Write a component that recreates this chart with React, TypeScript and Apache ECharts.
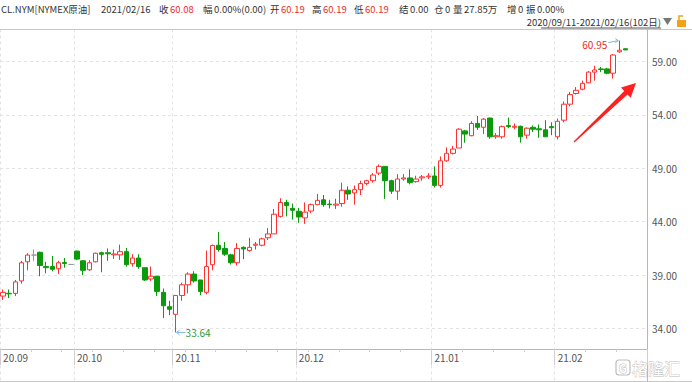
import React, { useEffect, useRef } from 'react';
import * as echarts from 'echarts';

// [open, close, low, high]
const ohlc: number[][] = [
  [37.04, 37.39, 36.68, 37.66],
  [37.3, 37.25, 36.86, 37.66],
  [37.3, 38.37, 37.04, 38.55],
  [38.46, 40.16, 38.2, 40.34],
  [40.25, 40.88, 39.45, 41.05],
  [40.88, 40.88, 40.34, 41.4],
  [41.14, 39.9, 38.9, 41.2],
  [39.8, 39.7, 39.18, 40.25],
  [39.8, 39.55, 39.36, 40.8],
  [39.6, 40.16, 39.1, 40.34],
  [40.18, 40.1, 39.7, 40.6],
  [40.0, 40.0, 39.95, 40.05],
  [41.25, 40.5, 40.4, 41.3],
  [40.34, 39.45, 39.0, 40.4],
  [39.5, 40.16, 39.4, 40.4],
  [40.25, 41.05, 40.2, 41.1],
  [41.1, 40.95, 39.27, 41.2],
  [41.1, 41.0, 40.34, 41.5],
  [40.9, 40.98, 40.52, 41.4],
  [40.9, 41.2, 40.43, 41.86],
  [41.2, 39.98, 39.8, 41.55],
  [40.07, 40.6, 39.8, 40.96],
  [40.6, 39.8, 39.6, 40.96],
  [39.7, 38.55, 38.46, 39.7],
  [38.64, 38.9, 38.46, 39.8],
  [38.9, 37.48, 37.04, 38.9],
  [37.39, 36.14, 34.98, 37.75],
  [36.05, 35.8, 35.25, 36.6],
  [35.34, 37.1, 33.64, 37.12],
  [37.1, 38.1, 36.6, 38.3],
  [38.1, 39.1, 37.3, 39.27],
  [39.1, 38.46, 38.3, 39.36],
  [38.55, 37.48, 37.12, 38.55],
  [37.39, 39.8, 37.2, 41.3],
  [39.98, 41.77, 39.45, 41.86],
  [41.8, 41.4, 41.2, 43.05],
  [41.5, 40.96, 40.8, 42.1],
  [40.9, 40.16, 40.0, 41.0],
  [40.16, 41.5, 39.9, 42.0],
  [41.6, 41.45, 40.5, 41.7],
  [41.3, 41.6, 41.2, 42.5],
  [41.8, 41.9, 41.4, 42.1],
  [41.8, 42.4, 41.7, 42.5],
  [42.5, 42.86, 42.3, 43.4],
  [42.86, 44.7, 42.86, 45.2],
  [44.5, 45.8, 44.4, 46.2],
  [45.8, 45.5, 44.5, 46.05],
  [45.25, 45.07, 44.2, 45.7],
  [44.98, 44.45, 43.9, 45.3],
  [44.36, 44.9, 43.8, 45.8],
  [45.0, 45.6, 44.8, 45.7],
  [45.6, 46.0, 45.6, 46.6],
  [46.05, 45.6, 45.4, 46.5],
  [45.65, 45.6, 45.25, 46.05],
  [45.55, 45.65, 45.2, 46.15],
  [45.7, 46.95, 45.4, 47.66],
  [46.95, 46.6, 46.05, 47.3],
  [46.7, 47.0, 45.6, 47.4],
  [47.0, 47.57, 46.5, 47.84],
  [47.57, 47.84, 47.4, 47.93],
  [47.84, 48.37, 47.66, 48.55],
  [48.55, 49.18, 48.37, 49.36],
  [49.18, 47.84, 46.14, 49.18],
  [47.84, 46.86, 46.6, 47.93],
  [46.86, 48.0, 46.05, 48.46],
  [48.0, 48.1, 47.84, 48.46],
  [48.1, 47.66, 47.5, 48.9],
  [47.75, 48.0, 47.66, 48.3],
  [48.1, 48.2, 47.84, 48.37],
  [48.2, 48.28, 48.0, 48.55],
  [48.28, 47.4, 47.2, 49.18],
  [47.4, 49.7, 47.2, 50.1],
  [49.7, 50.4, 49.6, 50.96],
  [50.4, 50.8, 50.3, 51.1],
  [50.9, 52.66, 50.9, 52.75],
  [52.5, 52.2, 51.4, 52.6],
  [52.05, 53.2, 52.0, 53.4],
  [53.2, 52.84, 52.6, 53.9],
  [52.84, 53.6, 52.2, 53.7],
  [53.7, 51.95, 51.77, 53.75],
  [51.95, 52.05, 51.77, 52.3],
  [51.95, 52.9, 51.77, 53.0],
  [53.0, 52.9, 52.75, 53.75],
  [52.84, 52.93, 52.66, 53.2],
  [52.93, 51.95, 51.4, 53.0],
  [52.1, 52.75, 51.77, 52.84],
  [52.84, 52.66, 52.4, 53.0],
  [52.7, 52.6, 51.86, 53.1],
  [52.6, 51.95, 51.95, 53.5],
  [52.9, 52.8, 52.1, 53.3],
  [51.95, 53.4, 51.7, 53.65],
  [53.5, 55.0, 53.3, 55.25],
  [55.0, 55.9, 54.8, 56.15],
  [56.0, 56.3, 55.9, 56.6],
  [56.4, 56.95, 56.3, 57.2],
  [57.0, 58.0, 56.95, 58.1],
  [58.0, 58.2, 57.2, 58.6],
  [58.3, 58.25, 58.0, 58.5],
  [58.3, 57.9, 57.8, 58.4],
  [57.9, 59.6, 57.4, 59.7],
  [59.9, 60.05, 59.8, 60.95],
  [60.19, 60.08, 60.08, 60.19],
];

const monthStartIndex = [0, 12, 28, 48, 70, 90];
const monthLabels = ['20.09', '20.10', '20.11', '20.12', '21.01', '21.02'];
const trailingSlots = 3;

const yMin = 29;
const yMax = 62;
const yStep = 5;

const lowMark = { index: 28, value: 33.64 };
const highMark = { index: 100, value: 60.95 };

const headerItems = [
  { k: '收', v: '60.08', red: true },
  { k: '幅', v: '0.00%(0.00)', red: false },
  { k: '开', v: '60.19', red: true },
  { k: '高', v: '60.19', red: true },
  { k: '低', v: '60.19', red: true },
  { k: '结', v: '0.00', red: false },
  { k: '仓', v: '0', red: false },
  { k: '量', v: '27.85万', red: false },
  { k: '增', v: '0', red: false },
  { k: '振', v: '0.00%', red: false },
];
const headerX = [159, 203, 270, 312, 354, 399, 434, 453, 507, 526];

const UP = '#ff3030';
const DOWN = '#0b9a0b';
const RED_TXT = '#ee2a2a';
const FONT = '"Noto Sans CJK SC", "Noto Sans", sans-serif';
const HF = `9.5px ${FONT}`;

const categories = ohlc
  .map((_, i) => {
    const m = monthStartIndex.indexOf(i);
    return m >= 0 ? monthLabels[m] : 'd' + i;
  })
  .concat(Array.from({ length: trailingSlots }, (_, i) => 'e' + i));

export default function App() {
  const ref = useRef<HTMLDivElement>(null);
  useEffect(() => {
    if (!ref.current) return;
    const chart = echarts.init(ref.current, undefined, { renderer: 'svg' });
    const isMonth = (i: number) => monthStartIndex.indexOf(i) >= 0;
    const weekly = (i: number) => i % 5 === 0 && !isMonth(i);

    chart.setOption({
      animation: false,
      backgroundColor: '#fff',
      textStyle: { fontFamily: FONT },
      grid: { left: 0, right: 45, top: 29.4, height: 369.6 },
      xAxis: [
        {
          type: 'category',
          data: categories,
          boundaryGap: true,
          offset: -33,
          axisLine: { lineStyle: { color: '#b8b8b8' } },
          axisTick: { show: true, interval: (i: number) => isMonth(i), length: 16, lineStyle: { color: '#cfcfcf' } },
          axisLabel: {
            interval: (i: number) => isMonth(i),
            formatter: (v: string) => v,
            align: 'left',
            margin: 3,
            color: '#555',
            fontSize: 10,
            fontFamily: FONT,
          },
          splitLine: { show: true, interval: (i: number) => isMonth(i), lineStyle: { color: '#e3e3e3', type: [3, 3] } },
        },
        {
          type: 'category',
          data: categories,
          boundaryGap: true,
          position: 'bottom',
          offset: -33,
          axisLine: { show: false },
          axisTick: { show: true, interval: (i: number) => weekly(i), length: 3, lineStyle: { color: '#cfcfcf' } },
          axisLabel: { show: false },
          splitLine: { show: false },
        },
      ],
      yAxis: {
        type: 'value',
        position: 'right',
        min: yMin,
        max: yMax,
        interval: yStep,
        axisLine: { show: true, lineStyle: { color: '#b8b8b8' } },
        axisTick: { show: false },
        axisLabel: {
          showMaxLabel: false,
          showMinLabel: false,
          formatter: (v: number) => v.toFixed(2),
          color: '#555',
          fontSize: 10,
          margin: 5,
          fontFamily: FONT,
        },
        splitLine: { show: true, lineStyle: { color: '#e3e3e3', type: [3, 3] } },
      },
      series: [
        {
          type: 'candlestick',
          data: ohlc,
          barWidth: 5,
          itemStyle: {
            color: '#ffffff',
            color0: DOWN,
            borderColor: UP,
            borderColor0: DOWN,
            borderColorDoji: '#999999',
            borderWidth: 1,
          },
        },
      ],
    });

    const pLow = chart.convertToPixel({ xAxisIndex: 0, yAxisIndex: 0 }, [lowMark.index, lowMark.value]) as number[];
    const pHigh = chart.convertToPixel({ xAxisIndex: 0, yAxisIndex: 0 }, [highMark.index, highMark.value]) as number[];

    const header: any[] = [
      { type: 'text', x: 1, y: 9, style: { text: 'CL.NYM[NYMEX原油]', fill: '#333', font: HF, textVerticalAlign: 'middle' } },
      { type: 'text', x: 101, y: 9, style: { text: '2021/02/16', fill: '#333', font: HF, textVerticalAlign: 'middle' } },
    ];
    headerItems.forEach((it, i) => {
      header.push({ type: 'text', x: headerX[i], y: 9, style: { text: it.k, fill: '#333', font: HF, textVerticalAlign: 'middle' } });
      header.push({ type: 'text', x: headerX[i] + 11, y: 9, style: { text: it.v, fill: it.red ? RED_TXT : '#333', font: HF, textVerticalAlign: 'middle' } });
    });

    const ux = 0.724, uy = -0.689, nx = 0.689, ny = 0.724;
    const tip = [636, 83];
    const tail = [574, 142];
    const bx = tip[0] - 14 * ux, by = tip[1] - 14 * uy;
    const arrowPts = [
      [tail[0] - 0.6 * nx, tail[1] - 0.6 * ny],
      [bx - 2.4 * nx, by - 2.4 * ny],
      [bx - 7 * nx, by - 7 * ny],
      tip,
      [bx + 7 * nx, by + 7 * ny],
      [bx + 2.4 * nx, by + 2.4 * ny],
      [tail[0] + 0.6 * nx, tail[1] + 0.6 * ny],
    ];

    chart.setOption({
      graphic: [
        ...header,
        { type: 'text', right: 31, y: 22, style: { text: '2020/09/11-2021/02/16(102日)', fill: '#333', font: `9.5px ${FONT}`, textVerticalAlign: 'middle' } },
        { type: 'line', shape: { x1: 541, y1: 28, x2: 661, y2: 28 }, style: { stroke: '#555', lineWidth: 1 } },
        { type: 'polygon', shape: { points: [[663, 18], [672, 18], [667.5, 25]] }, style: { fill: '#777' } },
        { type: 'rect', shape: { x: 677, y: 20, width: 9, height: 7 }, style: { fill: '#f5a01a' } },
        { type: 'polyline', shape: { points: [[679, 20], [679, 16], [683, 16]] }, style: { stroke: '#f5a01a', lineWidth: 1.5, fill: 'none' } },
        { type: 'line', shape: { x1: 0, y1: 29.5, x2: 692, y2: 29.5 }, style: { stroke: '#c8c8c8', lineWidth: 1 } },
        { type: 'line', shape: { x1: 0, y1: 381.5, x2: 692, y2: 381.5 }, style: { stroke: '#c8c8c8', lineWidth: 1 } },
        // high annotation
        { type: 'text', x: pHigh[0] - 12, y: pHigh[1] + 4, style: { text: highMark.value.toFixed(2), fill: RED_TXT, font: `10px ${FONT}`, textAlign: 'right', textVerticalAlign: 'middle' } },
        { type: 'line', shape: { x1: pHigh[0] - 11, y1: pHigh[1] + 2, x2: pHigh[0] - 1, y2: pHigh[1] }, style: { stroke: '#7fb8e0', lineWidth: 1 } },
        { type: 'polyline', shape: { points: [[pHigh[0] - 4, pHigh[1] - 2], [pHigh[0] - 1, pHigh[1]], [pHigh[0] - 4, pHigh[1] + 2]] }, style: { stroke: '#7fb8e0', lineWidth: 1, fill: 'none' } },
        // low annotation
        { type: 'line', shape: { x1: pLow[0] + 1, y1: pLow[1], x2: pLow[0] + 10, y2: pLow[1] }, style: { stroke: '#7fb8e0', lineWidth: 1 } },
        { type: 'polyline', shape: { points: [[pLow[0] + 4, pLow[1] - 2.5], [pLow[0] + 1, pLow[1]], [pLow[0] + 4, pLow[1] + 2.5]] }, style: { stroke: '#7fb8e0', lineWidth: 1, fill: 'none' } },
        { type: 'text', x: pLow[0] + 10, y: pLow[1], style: { text: lowMark.value.toFixed(2), fill: '#2e9b2e', font: `10px ${FONT}`, textVerticalAlign: 'middle' } },
        // big red arrow
        { type: 'polygon', shape: { points: arrowPts }, style: { fill: '#ff2020' } },
        // watermark
        { type: 'rect', shape: { x: 616, y: 360, width: 14, height: 15, r: 3 }, style: { fill: '#fff', stroke: '#bdbdbd', lineWidth: 1.2 } },
        { type: 'text', x: 623, y: 367.5, style: { text: 'G', fill: '#fff', stroke: '#bdbdbd', lineWidth: 1, font: `bold 11px ${FONT}`, textAlign: 'center', textVerticalAlign: 'middle' } },
        { type: 'text', x: 632, y: 368, style: { text: '格隆汇', fill: '#ffffff', stroke: '#bdbdbd', lineWidth: 0.8, font: `16px ${FONT}`, textVerticalAlign: 'middle' } },
      ],
    });

    return () => chart.dispose();
  }, []);

  return <div ref={ref} style={{ position: 'fixed', left: 0, top: 0, width: 692, height: 382, background: '#fff' }} />;
}
